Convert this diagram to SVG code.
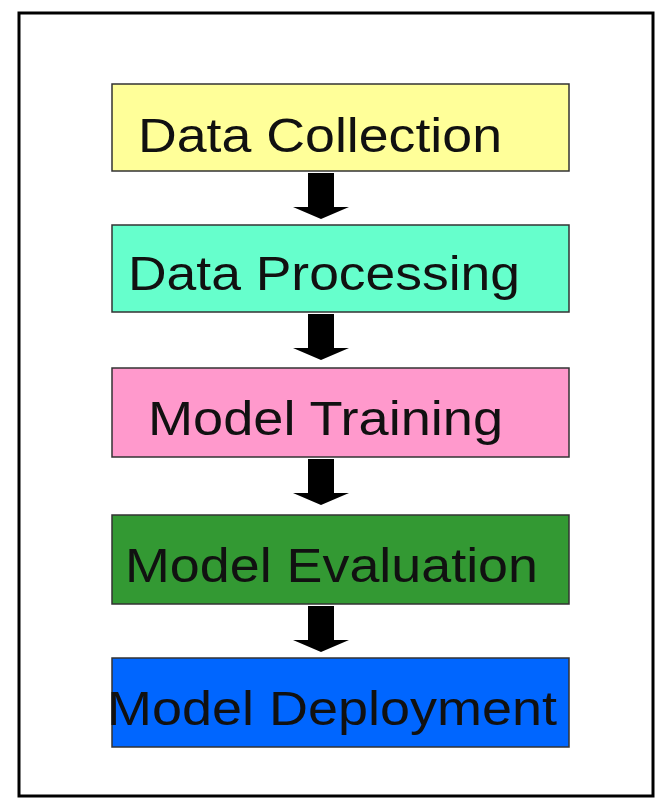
<svg xmlns="http://www.w3.org/2000/svg" width="671" height="812" viewBox="0 0 671 812">
<style>
.box{stroke:#333;stroke-width:1.5}
text{font-family:"Liberation Sans",Arial,sans-serif;font-size:48px;fill:#111}
</style>
<defs><path id="arr" d="M-13,0 H13 V34 H28 L0,46 L-28,34 H-13 Z" fill="#000"/></defs>
<rect width="671" height="812" fill="#fff"/>
<rect x="19" y="13" width="634" height="783" fill="none" stroke="#000" stroke-width="3"/>
<g id="n1"><rect class="box" x="112" y="84" width="457" height="87" fill="#FFFF99"/><text x="138" y="152" textLength="364" lengthAdjust="spacingAndGlyphs">Data Collection</text></g>
<g id="n2"><rect class="box" x="112" y="225" width="457" height="87" fill="#66FFCC"/><text x="128" y="290" textLength="392" lengthAdjust="spacingAndGlyphs">Data Processing</text></g>
<g id="n3"><rect class="box" x="112" y="368" width="457" height="89" fill="#FF99CC"/><text x="148" y="435" textLength="355" lengthAdjust="spacingAndGlyphs">Model Training</text></g>
<g id="n4"><rect class="box" x="112" y="515" width="457" height="89" fill="#339933"/><text x="125" y="582" textLength="413" lengthAdjust="spacingAndGlyphs">Model Evaluation</text></g>
<g id="n5"><rect class="box" x="112" y="658" width="457" height="89" fill="#0066FF"/><text x="107" y="725" textLength="450" lengthAdjust="spacingAndGlyphs">Model Deployment</text></g>
<g id="connectors">
<use href="#arr" x="321" y="173"/>
<use href="#arr" x="321" y="314"/>
<use href="#arr" x="321" y="459"/>
<use href="#arr" x="321" y="606"/>
</g>
</svg>
